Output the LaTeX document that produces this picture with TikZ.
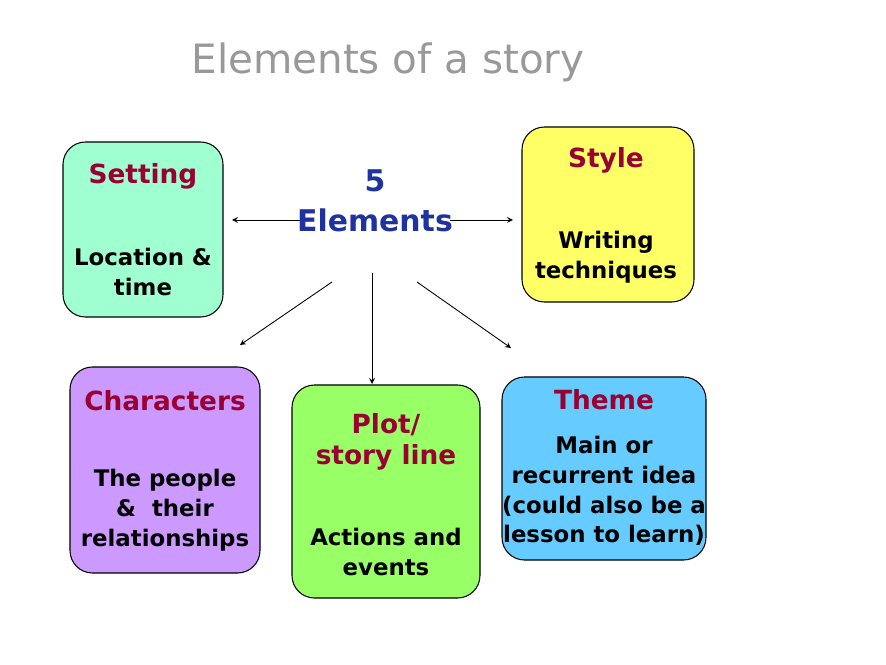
\documentclass[tikz,border=0pt]{standalone}
\usepackage{fontspec}
\setmainfont{DejaVu Sans}
\begin{document}
\begin{tikzpicture}[x=0.02cm,y=-0.02cm,
 box/.style={draw=black,line width=0.6pt,rounded corners=0.45cm},
 hd/.style={text=purple!80!black,font=\fontsize{15}{18}\selectfont\bfseries,align=center},
 bd/.style={text=black,font=\fontsize{13}{17}\selectfont\bfseries,align=center},
 arr/.style={-stealth,line width=0.5pt}]
\useasboundingbox (0,0) rectangle (886,665);
\node[text=gray!80,font=\fontsize{23}{26}\selectfont] (title) at (388,62) {Elements of a story};
\draw[box,fill={rgb,255:red,160;green,255;blue,208}] (63,142) rectangle (223,317);
\draw[box,fill={rgb,255:red,255;green,255;blue,102}] (522,127) rectangle (694,302);
\draw[box,fill={rgb,255:red,204;green,153;blue,255}] (70,367) rectangle (260,573);
\draw[box,fill={rgb,255:red,153;green,255;blue,102}] (292,385) rectangle (480,598);
\draw[box,fill={rgb,255:red,102;green,204;blue,255}] (502,377) rectangle (706,560);
\node[hd] (sh) at (143,176) {Setting};
\node[bd] (sb) at (143,272) {Location \&\\time};
\node[hd] (yh) at (606,160) {Style};
\node[bd] (yb) at (606,257) {Writing\\techniques};
\node[hd] (ch) at (165,401) {Characters};
\node[bd] (cb) at (165,510) {The people\\\&\ \ their\\relationships};
\node[hd] (ph) at (386,442) {Plot/\\story line};
\node[bd] (pb) at (386,552) {Actions and\\events};
\node[hd] (th) at (604,400) {Theme};
\node[bd] (tb) at (604,491) {Main or\\recurrent idea\\(could also be a\\lesson to learn)};
\node[text={rgb,255:red,30;green,50;blue,160},font=\fontsize{17}{23}\selectfont\bfseries,align=center] (five) at (375,201) {5\\Elements};
\coordinate (l1) at (300,220); \coordinate (l2) at (232,220);
\coordinate (r1) at (450,220); \coordinate (r2) at (513,220);
\coordinate (a1) at (332,282); \coordinate (a2) at (240,345);
\coordinate (b1) at (372,273); \coordinate (b2) at (372,384);
\coordinate (c1) at (417,282); \coordinate (c2) at (511,348);
\draw[arr] (l1) -- (l2);
\draw[arr] (r1) -- (r2);
\draw[arr] (a1) -- (a2);
\draw[arr] (b1) -- (b2);
\draw[arr] (c1) -- (c2);
\end{tikzpicture}
\end{document}
